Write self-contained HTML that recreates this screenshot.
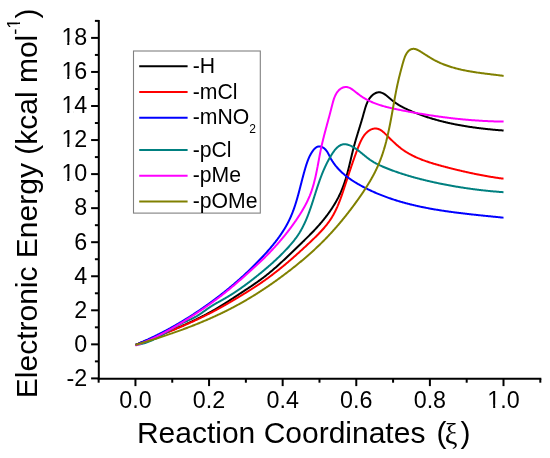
<!DOCTYPE html>
<html><head><meta charset="utf-8"><style>
html,body{margin:0;padding:0;background:#fff;}
svg{display:block;}
</style></head><body>
<svg width="550" height="458" viewBox="0 0 550 458">
<path d="M135.45,344.90 L136.11,344.63 L136.77,344.37 L137.44,344.10 L138.10,343.83 L138.76,343.57 L139.43,343.30 L140.09,343.03 L140.76,342.77 L141.42,342.50 L142.09,342.24 L142.75,341.97 L143.42,341.71 L144.09,341.44 L144.75,341.17 L145.42,340.91 L146.09,340.64 L146.76,340.38 L147.43,340.11 L148.09,339.84 L148.76,339.58 L149.43,339.31 L150.10,339.05 L150.77,338.78 L151.44,338.51 L152.11,338.25 L152.78,337.98 L153.45,337.71 L154.12,337.45 L154.79,337.18 L155.46,336.91 L156.13,336.64 L156.80,336.37 L157.48,336.11 L158.15,335.84 L158.82,335.57 L159.49,335.30 L160.16,335.03 L160.83,334.76 L161.50,334.49 L162.17,334.22 L162.84,333.95 L163.51,333.67 L164.18,333.40 L164.86,333.13 L165.53,332.85 L166.20,332.58 L166.87,332.31 L167.54,332.03 L168.21,331.76 L168.88,331.48 L169.55,331.20 L170.22,330.93 L170.89,330.65 L171.55,330.37 L172.22,330.09 L172.89,329.81 L173.56,329.53 L174.23,329.25 L174.90,328.97 L175.56,328.68 L176.23,328.40 L176.90,328.12 L177.56,327.83 L178.23,327.55 L178.89,327.26 L179.56,326.97 L180.22,326.68 L180.89,326.39 L181.55,326.10 L182.22,325.81 L182.88,325.52 L183.54,325.23 L184.20,324.93 L184.86,324.64 L185.52,324.34 L186.18,324.05 L186.84,323.75 L187.50,323.45 L188.16,323.15 L188.82,322.85 L189.48,322.55 L190.13,322.24 L190.79,321.94 L191.45,321.64 L192.10,321.33 L192.75,321.02 L193.41,320.71 L194.06,320.40 L194.71,320.09 L195.36,319.78 L196.01,319.47 L196.66,319.15 L197.31,318.83 L197.96,318.52 L198.61,318.20 L199.25,317.88 L199.90,317.56 L200.54,317.23 L201.19,316.91 L201.83,316.58 L202.47,316.26 L203.11,315.93 L203.75,315.60 L204.39,315.27 L205.03,314.93 L205.67,314.60 L206.30,314.26 L206.94,313.93 L207.57,313.59 L208.21,313.25 L208.84,312.91 L209.47,312.56 L210.10,312.22 L210.73,311.87 L211.36,311.52 L211.98,311.17 L212.61,310.82 L213.23,310.47 L213.86,310.11 L214.48,309.76 L215.10,309.40 L215.72,309.04 L216.34,308.68 L216.95,308.31 L217.57,307.95 L218.18,307.58 L218.80,307.21 L219.41,306.84 L220.02,306.47 L220.63,306.09 L221.24,305.72 L221.85,305.34 L222.46,304.96 L223.07,304.58 L223.67,304.20 L224.28,303.82 L224.88,303.44 L225.49,303.05 L226.09,302.67 L226.69,302.28 L227.30,301.90 L227.90,301.51 L228.50,301.12 L229.10,300.73 L229.70,300.34 L230.30,299.95 L230.90,299.56 L231.51,299.16 L232.11,298.77 L232.71,298.38 L233.31,297.98 L233.91,297.59 L234.51,297.19 L235.11,296.80 L235.71,296.40 L236.31,296.01 L236.91,295.61 L237.52,295.22 L238.12,294.82 L238.72,294.43 L239.33,294.03 L239.93,293.63 L240.53,293.24 L241.14,292.84 L241.74,292.45 L242.35,292.05 L242.95,291.65 L243.56,291.26 L244.16,290.86 L244.77,290.46 L245.37,290.07 L245.98,289.67 L246.58,289.27 L247.19,288.87 L247.79,288.47 L248.40,288.07 L249.00,287.67 L249.61,287.26 L250.21,286.86 L250.81,286.46 L251.41,286.05 L252.01,285.65 L252.61,285.24 L253.21,284.83 L253.81,284.42 L254.41,284.01 L255.00,283.60 L255.60,283.19 L256.19,282.77 L256.79,282.36 L257.38,281.94 L257.97,281.52 L258.56,281.10 L259.15,280.68 L259.73,280.26 L260.32,279.83 L260.90,279.41 L261.48,278.98 L262.06,278.55 L262.64,278.11 L263.22,277.68 L263.80,277.24 L264.37,276.81 L264.94,276.37 L265.51,275.92 L266.08,275.48 L266.64,275.03 L267.20,274.58 L267.77,274.13 L268.33,273.68 L268.88,273.23 L269.44,272.77 L270.00,272.31 L270.55,271.85 L271.10,271.39 L271.65,270.93 L272.20,270.46 L272.75,270.00 L273.29,269.53 L273.83,269.06 L274.38,268.59 L274.92,268.12 L275.46,267.64 L276.00,267.17 L276.54,266.69 L277.07,266.21 L277.61,265.73 L278.14,265.25 L278.67,264.77 L279.21,264.29 L279.74,263.80 L280.27,263.32 L280.80,262.83 L281.32,262.35 L281.85,261.86 L282.38,261.37 L282.90,260.88 L283.43,260.39 L283.95,259.90 L284.48,259.40 L285.00,258.91 L285.52,258.41 L286.04,257.92 L286.57,257.42 L287.09,256.93 L287.61,256.43 L288.13,255.93 L288.65,255.43 L289.17,254.94 L289.69,254.44 L290.20,253.94 L290.72,253.44 L291.24,252.94 L291.76,252.44 L292.28,251.94 L292.80,251.44 L293.31,250.94 L293.83,250.43 L294.35,249.93 L294.87,249.43 L295.39,248.93 L295.91,248.43 L296.42,247.93 L296.94,247.43 L297.46,246.92 L297.98,246.42 L298.50,245.92 L299.02,245.42 L299.54,244.92 L300.06,244.42 L300.58,243.92 L301.10,243.42 L301.62,242.92 L302.14,242.42 L302.66,241.91 L303.18,241.41 L303.70,240.91 L304.22,240.41 L304.74,239.90 L305.26,239.40 L305.77,238.89 L306.29,238.39 L306.81,237.88 L307.32,237.37 L307.84,236.87 L308.35,236.36 L308.86,235.85 L309.37,235.34 L309.88,234.82 L310.39,234.31 L310.90,233.80 L311.41,233.28 L311.91,232.77 L312.41,232.25 L312.92,231.73 L313.42,231.21 L313.92,230.69 L314.41,230.16 L314.91,229.64 L315.40,229.11 L315.90,228.58 L316.39,228.05 L316.87,227.52 L317.36,226.98 L317.84,226.45 L318.33,225.91 L318.81,225.37 L319.28,224.83 L319.76,224.28 L320.23,223.74 L320.70,223.19 L321.17,222.64 L321.64,222.09 L322.10,221.54 L322.56,220.98 L323.02,220.42 L323.48,219.86 L323.93,219.30 L324.38,218.74 L324.83,218.17 L325.27,217.61 L325.71,217.04 L326.15,216.47 L326.59,215.89 L327.02,215.32 L327.45,214.74 L327.88,214.16 L328.31,213.58 L328.73,213.00 L329.15,212.41 L329.56,211.82 L329.97,211.23 L330.38,210.64 L330.79,210.05 L331.19,209.45 L331.59,208.85 L331.98,208.25 L332.38,207.65 L332.76,207.05 L333.15,206.44 L333.53,205.83 L333.91,205.22 L334.28,204.61 L334.65,203.99 L335.02,203.37 L335.38,202.76 L335.74,202.13 L336.10,201.51 L336.45,200.88 L336.80,200.26 L337.14,199.63 L337.48,198.99 L337.81,198.36 L338.15,197.72 L338.47,197.08 L338.80,196.44 L339.11,195.80 L339.43,195.15 L339.74,194.50 L340.04,193.85 L340.35,193.20 L340.64,192.55 L340.94,191.89 L341.22,191.23 L341.51,190.57 L341.79,189.90 L342.06,189.24 L342.33,188.57 L342.59,187.90 L342.85,187.23 L343.11,186.55 L343.36,185.87 L343.61,185.19 L343.85,184.51 L344.09,183.83 L344.33,183.15 L344.56,182.46 L344.79,181.77 L345.01,181.08 L345.23,180.39 L345.45,179.70 L345.66,179.00 L345.88,178.31 L346.08,177.61 L346.29,176.91 L346.49,176.21 L346.69,175.51 L346.89,174.81 L347.09,174.11 L347.28,173.41 L347.47,172.70 L347.66,172.00 L347.84,171.29 L348.03,170.59 L348.21,169.88 L348.39,169.17 L348.57,168.46 L348.75,167.76 L348.92,167.05 L349.10,166.34 L349.27,165.63 L349.44,164.92 L349.61,164.21 L349.78,163.50 L349.95,162.79 L350.12,162.08 L350.29,161.38 L350.46,160.67 L350.63,159.96 L350.79,159.25 L350.96,158.54 L351.13,157.84 L351.30,157.13 L351.46,156.43 L351.63,155.72 L351.80,155.02 L351.97,154.31 L352.14,153.61 L352.31,152.91 L352.48,152.21 L352.65,151.51 L352.83,150.81 L353.00,150.11 L353.18,149.42 L353.35,148.72 L353.53,148.03 L353.71,147.34 L353.89,146.65 L354.08,145.96 L354.26,145.28 L354.45,144.59 L354.64,143.91 L354.83,143.22 L355.02,142.54 L355.21,141.86 L355.41,141.18 L355.60,140.50 L355.80,139.83 L356.00,139.15 L356.20,138.47 L356.40,137.80 L356.60,137.12 L356.81,136.45 L357.01,135.77 L357.22,135.10 L357.42,134.42 L357.63,133.75 L357.84,133.07 L358.05,132.39 L358.25,131.72 L358.46,131.04 L358.67,130.36 L358.88,129.68 L359.09,129.00 L359.30,128.32 L359.51,127.64 L359.73,126.96 L359.94,126.27 L360.15,125.58 L360.36,124.90 L360.57,124.21 L360.78,123.52 L360.99,122.82 L361.20,122.13 L361.41,121.43 L361.62,120.73 L361.82,120.03 L362.03,119.33 L362.24,118.62 L362.45,117.91 L362.65,117.20 L362.86,116.48 L363.06,115.76 L363.26,115.04 L363.46,114.32 L363.66,113.59 L363.86,112.86 L364.07,112.13 L364.27,111.40 L364.47,110.66 L364.68,109.93 L364.89,109.20 L365.11,108.47 L365.33,107.75 L365.56,107.03 L365.80,106.31 L366.04,105.60 L366.30,104.90 L366.56,104.21 L366.84,103.52 L367.13,102.84 L367.43,102.17 L367.74,101.52 L368.07,100.87 L368.42,100.24 L368.78,99.62 L369.16,99.01 L369.55,98.42 L369.97,97.85 L370.41,97.29 L370.86,96.75 L371.34,96.23 L371.84,95.72 L372.36,95.24 L372.90,94.79 L373.46,94.36 L374.03,93.96 L374.62,93.60 L375.21,93.27 L375.82,92.99 L376.43,92.74 L377.04,92.55 L377.66,92.40 L378.28,92.30 L378.89,92.26 L379.50,92.27 L380.11,92.34 L380.72,92.46 L381.32,92.62 L381.92,92.83 L382.52,93.08 L383.12,93.37 L383.72,93.69 L384.31,94.04 L384.91,94.43 L385.50,94.84 L386.09,95.27 L386.68,95.72 L387.27,96.19 L387.86,96.67 L388.45,97.16 L389.05,97.67 L389.64,98.17 L390.23,98.68 L390.83,99.18 L391.42,99.69 L392.02,100.18 L392.62,100.66 L393.22,101.14 L393.83,101.60 L394.43,102.05 L395.04,102.49 L395.65,102.92 L396.26,103.33 L396.87,103.74 L397.49,104.15 L398.10,104.54 L398.72,104.92 L399.34,105.30 L399.96,105.66 L400.59,106.02 L401.21,106.37 L401.84,106.72 L402.47,107.06 L403.10,107.39 L403.73,107.71 L404.37,108.03 L405.00,108.35 L405.64,108.66 L406.28,108.96 L406.92,109.26 L407.56,109.56 L408.21,109.85 L408.85,110.14 L409.50,110.43 L410.15,110.71 L410.80,110.99 L411.45,111.27 L412.11,111.55 L412.76,111.82 L413.42,112.09 L414.07,112.36 L414.73,112.63 L415.39,112.89 L416.06,113.15 L416.72,113.41 L417.39,113.66 L418.05,113.92 L418.72,114.17 L419.39,114.42 L420.06,114.67 L420.73,114.91 L421.40,115.15 L422.08,115.39 L422.75,115.63 L423.43,115.86 L424.11,116.10 L424.79,116.33 L425.47,116.56 L426.15,116.78 L426.83,117.01 L427.51,117.23 L428.20,117.45 L428.88,117.66 L429.57,117.88 L430.26,118.09 L430.95,118.30 L431.64,118.51 L432.33,118.72 L433.02,118.92 L433.71,119.12 L434.41,119.32 L435.10,119.52 L435.80,119.72 L436.49,119.91 L437.19,120.10 L437.89,120.29 L438.59,120.48 L439.29,120.67 L439.99,120.85 L440.69,121.03 L441.39,121.21 L442.10,121.39 L442.80,121.56 L443.51,121.74 L444.21,121.91 L444.92,122.08 L445.63,122.25 L446.33,122.41 L447.04,122.58 L447.75,122.74 L448.46,122.90 L449.17,123.06 L449.88,123.21 L450.59,123.37 L451.30,123.52 L452.02,123.67 L452.73,123.82 L453.44,123.97 L454.16,124.11 L454.87,124.26 L455.58,124.40 L456.30,124.54 L457.02,124.68 L457.73,124.81 L458.45,124.95 L459.16,125.08 L459.88,125.21 L460.60,125.34 L461.32,125.47 L462.03,125.60 L462.75,125.72 L463.47,125.85 L464.19,125.97 L464.91,126.09 L465.63,126.21 L466.35,126.32 L467.07,126.44 L467.79,126.55 L468.51,126.67 L469.23,126.78 L469.95,126.89 L470.67,126.99 L471.39,127.10 L472.11,127.20 L472.83,127.31 L473.55,127.41 L474.27,127.51 L474.99,127.61 L475.71,127.71 L476.43,127.80 L477.15,127.90 L477.87,127.99 L478.59,128.08 L479.31,128.17 L480.03,128.26 L480.75,128.35 L481.47,128.43 L482.19,128.52 L482.91,128.60 L483.63,128.68 L484.34,128.76 L485.06,128.84 L485.78,128.92 L486.50,129.00 L487.22,129.08 L487.93,129.15 L488.65,129.22 L489.37,129.30 L490.08,129.37 L490.80,129.44 L491.51,129.51 L492.23,129.57 L492.94,129.64 L493.66,129.70 L494.37,129.77 L495.08,129.83 L495.80,129.89 L496.51,129.95 L497.22,130.01 L497.93,130.07 L498.64,130.13 L499.35,130.18 L500.06,130.24 L500.77,130.29 L501.48,130.35 L502.19,130.40 L502.89,130.45 L503.60,130.50" fill="none" stroke="#000000" stroke-width="2" stroke-linejoin="round"/>
<path d="M135.45,344.90 L136.09,344.66 L136.72,344.41 L137.36,344.17 L138.00,343.92 L138.63,343.68 L139.27,343.44 L139.91,343.19 L140.55,342.95 L141.18,342.70 L141.82,342.46 L142.46,342.21 L143.10,341.96 L143.74,341.72 L144.37,341.47 L145.01,341.23 L145.65,340.98 L146.29,340.73 L146.93,340.49 L147.57,340.24 L148.21,339.99 L148.85,339.74 L149.49,339.50 L150.13,339.25 L150.77,339.00 L151.41,338.75 L152.05,338.50 L152.69,338.25 L153.33,338.00 L153.97,337.75 L154.61,337.50 L155.25,337.25 L155.89,337.00 L156.53,336.75 L157.17,336.49 L157.81,336.24 L158.45,335.99 L159.09,335.74 L159.73,335.48 L160.36,335.23 L161.00,334.97 L161.64,334.72 L162.28,334.46 L162.92,334.21 L163.56,333.95 L164.20,333.69 L164.84,333.44 L165.48,333.18 L166.12,332.92 L166.76,332.66 L167.40,332.40 L168.03,332.14 L168.67,331.88 L169.31,331.62 L169.95,331.36 L170.59,331.10 L171.22,330.84 L171.86,330.58 L172.50,330.31 L173.14,330.05 L173.77,329.78 L174.41,329.52 L175.05,329.25 L175.68,328.99 L176.32,328.72 L176.95,328.45 L177.59,328.18 L178.22,327.92 L178.86,327.65 L179.49,327.38 L180.13,327.11 L180.76,326.83 L181.40,326.56 L182.03,326.29 L182.66,326.02 L183.29,325.74 L183.93,325.47 L184.56,325.19 L185.19,324.91 L185.82,324.64 L186.45,324.36 L187.08,324.08 L187.71,323.80 L188.34,323.52 L188.97,323.24 L189.60,322.96 L190.23,322.68 L190.86,322.39 L191.48,322.11 L192.11,321.83 L192.74,321.54 L193.36,321.25 L193.99,320.97 L194.61,320.68 L195.24,320.39 L195.86,320.10 L196.49,319.81 L197.11,319.52 L197.73,319.23 L198.36,318.93 L198.98,318.64 L199.60,318.34 L200.22,318.05 L200.84,317.75 L201.46,317.45 L202.08,317.15 L202.69,316.85 L203.31,316.55 L203.93,316.25 L204.55,315.95 L205.16,315.65 L205.78,315.34 L206.39,315.04 L207.01,314.73 L207.62,314.42 L208.23,314.11 L208.84,313.80 L209.45,313.49 L210.07,313.18 L210.67,312.87 L211.28,312.55 L211.89,312.24 L212.50,311.92 L213.11,311.61 L213.71,311.29 L214.32,310.97 L214.92,310.65 L215.53,310.33 L216.13,310.01 L216.73,309.68 L217.34,309.36 L217.94,309.03 L218.54,308.71 L219.14,308.38 L219.74,308.05 L220.33,307.72 L220.93,307.39 L221.53,307.05 L222.12,306.72 L222.72,306.39 L223.32,306.05 L223.91,305.72 L224.50,305.38 L225.10,305.04 L225.69,304.70 L226.28,304.36 L226.88,304.02 L227.47,303.68 L228.06,303.34 L228.65,303.00 L229.24,302.65 L229.83,302.31 L230.42,301.96 L231.01,301.62 L231.60,301.27 L232.19,300.92 L232.78,300.58 L233.37,300.23 L233.95,299.88 L234.54,299.53 L235.13,299.18 L235.72,298.83 L236.31,298.47 L236.89,298.12 L237.48,297.77 L238.07,297.42 L238.66,297.06 L239.24,296.71 L239.83,296.35 L240.42,296.00 L241.01,295.64 L241.59,295.29 L242.18,294.93 L242.77,294.57 L243.36,294.22 L243.94,293.86 L244.53,293.50 L245.12,293.14 L245.70,292.78 L246.29,292.42 L246.87,292.05 L247.46,291.69 L248.04,291.33 L248.63,290.96 L249.21,290.60 L249.79,290.23 L250.37,289.87 L250.96,289.50 L251.54,289.13 L252.12,288.76 L252.70,288.39 L253.28,288.02 L253.86,287.64 L254.44,287.27 L255.01,286.90 L255.59,286.52 L256.17,286.14 L256.74,285.77 L257.31,285.39 L257.89,285.01 L258.46,284.62 L259.03,284.24 L259.60,283.86 L260.17,283.47 L260.74,283.09 L261.31,282.70 L261.87,282.31 L262.44,281.92 L263.00,281.53 L263.57,281.13 L264.13,280.74 L264.69,280.34 L265.25,279.95 L265.81,279.55 L266.37,279.15 L266.92,278.75 L267.48,278.34 L268.03,277.94 L268.59,277.54 L269.14,277.13 L269.69,276.72 L270.24,276.31 L270.79,275.90 L271.34,275.49 L271.88,275.08 L272.43,274.67 L272.98,274.25 L273.52,273.83 L274.06,273.42 L274.61,273.00 L275.15,272.58 L275.69,272.16 L276.23,271.74 L276.77,271.31 L277.31,270.89 L277.84,270.47 L278.38,270.04 L278.91,269.61 L279.45,269.18 L279.98,268.75 L280.52,268.32 L281.05,267.89 L281.58,267.46 L282.11,267.03 L282.64,266.59 L283.17,266.16 L283.70,265.72 L284.22,265.28 L284.75,264.85 L285.28,264.41 L285.80,263.97 L286.33,263.53 L286.85,263.08 L287.37,262.64 L287.89,262.20 L288.42,261.75 L288.94,261.31 L289.46,260.86 L289.98,260.41 L290.49,259.96 L291.01,259.52 L291.53,259.07 L292.05,258.62 L292.56,258.16 L293.08,257.71 L293.59,257.26 L294.11,256.81 L294.62,256.35 L295.14,255.90 L295.65,255.44 L296.16,254.98 L296.67,254.53 L297.19,254.07 L297.70,253.61 L298.21,253.15 L298.72,252.69 L299.23,252.23 L299.73,251.77 L300.24,251.30 L300.75,250.84 L301.26,250.38 L301.76,249.91 L302.27,249.45 L302.78,248.99 L303.28,248.52 L303.79,248.05 L304.29,247.59 L304.80,247.12 L305.30,246.65 L305.81,246.18 L306.31,245.71 L306.81,245.24 L307.31,244.77 L307.82,244.30 L308.32,243.83 L308.82,243.36 L309.32,242.89 L309.82,242.42 L310.32,241.95 L310.83,241.47 L311.33,241.00 L311.82,240.52 L312.32,240.05 L312.82,239.57 L313.32,239.10 L313.81,238.62 L314.31,238.14 L314.80,237.66 L315.30,237.18 L315.79,236.70 L316.28,236.21 L316.76,235.73 L317.25,235.24 L317.73,234.75 L318.22,234.27 L318.70,233.77 L319.17,233.28 L319.65,232.79 L320.12,232.29 L320.59,231.79 L321.06,231.29 L321.52,230.79 L321.98,230.28 L322.44,229.77 L322.90,229.26 L323.35,228.75 L323.80,228.23 L324.25,227.72 L324.69,227.20 L325.13,226.67 L325.56,226.15 L325.99,225.62 L326.42,225.08 L326.84,224.55 L327.26,224.01 L327.68,223.47 L328.08,222.92 L328.49,222.37 L328.89,221.82 L329.29,221.27 L329.68,220.71 L330.06,220.14 L330.44,219.58 L330.82,219.01 L331.19,218.43 L331.55,217.85 L331.91,217.27 L332.27,216.68 L332.62,216.09 L332.96,215.50 L333.30,214.90 L333.63,214.30 L333.96,213.69 L334.28,213.08 L334.60,212.47 L334.92,211.86 L335.23,211.24 L335.53,210.62 L335.83,210.00 L336.13,209.37 L336.42,208.74 L336.71,208.11 L336.99,207.48 L337.28,206.84 L337.55,206.20 L337.83,205.57 L338.10,204.92 L338.36,204.28 L338.63,203.64 L338.89,202.99 L339.15,202.34 L339.40,201.69 L339.65,201.04 L339.90,200.39 L340.15,199.74 L340.39,199.08 L340.63,198.43 L340.87,197.77 L341.10,197.12 L341.34,196.46 L341.57,195.81 L341.80,195.15 L342.03,194.49 L342.26,193.84 L342.48,193.18 L342.70,192.52 L342.92,191.87 L343.15,191.21 L343.36,190.55 L343.58,189.90 L343.80,189.25 L344.02,188.59 L344.23,187.94 L344.44,187.29 L344.66,186.64 L344.87,185.99 L345.08,185.34 L345.30,184.70 L345.51,184.05 L345.72,183.41 L345.93,182.76 L346.14,182.12 L346.35,181.48 L346.56,180.84 L346.77,180.19 L346.98,179.55 L347.19,178.91 L347.40,178.28 L347.61,177.64 L347.81,177.00 L348.02,176.36 L348.23,175.72 L348.44,175.08 L348.65,174.45 L348.86,173.81 L349.07,173.17 L349.28,172.53 L349.50,171.90 L349.71,171.26 L349.92,170.62 L350.13,169.98 L350.34,169.35 L350.56,168.71 L350.77,168.07 L350.99,167.43 L351.20,166.79 L351.42,166.15 L351.64,165.51 L351.86,164.87 L352.08,164.23 L352.30,163.58 L352.52,162.94 L352.74,162.29 L352.96,161.65 L353.19,161.00 L353.41,160.35 L353.64,159.71 L353.87,159.06 L354.10,158.41 L354.33,157.75 L354.56,157.10 L354.80,156.45 L355.03,155.79 L355.27,155.13 L355.51,154.47 L355.75,153.81 L355.99,153.15 L356.23,152.49 L356.48,151.82 L356.73,151.15 L356.98,150.48 L357.23,149.81 L357.48,149.14 L357.74,148.46 L357.99,147.79 L358.25,147.11 L358.52,146.44 L358.79,145.76 L359.06,145.09 L359.34,144.42 L359.62,143.75 L359.91,143.09 L360.20,142.43 L360.50,141.78 L360.81,141.13 L361.12,140.49 L361.44,139.86 L361.77,139.24 L362.11,138.62 L362.46,138.02 L362.82,137.42 L363.18,136.84 L363.56,136.27 L363.95,135.71 L364.35,135.17 L364.76,134.64 L365.18,134.12 L365.62,133.63 L366.07,133.14 L366.53,132.68 L367.01,132.23 L367.50,131.80 L368.00,131.39 L368.52,131.00 L369.06,130.63 L369.61,130.28 L370.17,129.96 L370.76,129.66 L371.35,129.38 L371.96,129.14 L372.58,128.93 L373.21,128.76 L373.84,128.63 L374.48,128.54 L375.12,128.50 L375.76,128.51 L376.40,128.56 L377.03,128.65 L377.66,128.79 L378.29,128.97 L378.90,129.19 L379.51,129.45 L380.10,129.75 L380.68,130.08 L381.25,130.44 L381.82,130.83 L382.37,131.25 L382.91,131.69 L383.45,132.15 L383.98,132.62 L384.51,133.11 L385.03,133.61 L385.55,134.12 L386.07,134.62 L386.58,135.13 L387.09,135.64 L387.60,136.15 L388.11,136.66 L388.62,137.16 L389.13,137.67 L389.63,138.17 L390.14,138.67 L390.64,139.17 L391.15,139.67 L391.66,140.16 L392.16,140.65 L392.67,141.14 L393.18,141.63 L393.69,142.11 L394.20,142.59 L394.71,143.07 L395.22,143.54 L395.73,144.01 L396.25,144.47 L396.77,144.93 L397.29,145.38 L397.81,145.83 L398.34,146.28 L398.87,146.72 L399.40,147.15 L399.93,147.58 L400.47,148.00 L401.01,148.42 L401.56,148.83 L402.10,149.24 L402.66,149.63 L403.21,150.03 L403.77,150.41 L404.33,150.80 L404.90,151.17 L405.47,151.54 L406.04,151.91 L406.62,152.26 L407.20,152.62 L407.78,152.97 L408.37,153.31 L408.95,153.65 L409.55,153.98 L410.14,154.31 L410.74,154.63 L411.34,154.95 L411.94,155.26 L412.54,155.57 L413.15,155.88 L413.76,156.18 L414.38,156.47 L414.99,156.76 L415.61,157.05 L416.23,157.33 L416.85,157.61 L417.48,157.88 L418.10,158.16 L418.73,158.42 L419.36,158.68 L420.00,158.94 L420.63,159.20 L421.27,159.45 L421.91,159.70 L422.55,159.94 L423.19,160.19 L423.83,160.42 L424.48,160.66 L425.12,160.89 L425.77,161.12 L426.42,161.35 L427.07,161.57 L427.73,161.79 L428.38,162.01 L429.03,162.22 L429.69,162.44 L430.35,162.65 L431.01,162.86 L431.67,163.06 L432.33,163.27 L432.99,163.47 L433.65,163.67 L434.31,163.86 L434.98,164.06 L435.64,164.25 L436.30,164.44 L436.97,164.63 L437.64,164.82 L438.30,165.01 L438.97,165.19 L439.64,165.38 L440.30,165.56 L440.97,165.74 L441.64,165.92 L442.31,166.10 L442.97,166.28 L443.64,166.46 L444.31,166.64 L444.98,166.81 L445.64,166.99 L446.31,167.16 L446.98,167.34 L447.65,167.51 L448.31,167.68 L448.98,167.85 L449.65,168.02 L450.31,168.19 L450.98,168.36 L451.65,168.53 L452.31,168.70 L452.98,168.87 L453.65,169.03 L454.32,169.20 L454.98,169.36 L455.65,169.53 L456.32,169.69 L456.98,169.85 L457.65,170.01 L458.32,170.17 L458.98,170.33 L459.65,170.49 L460.32,170.65 L460.98,170.81 L461.65,170.96 L462.32,171.12 L462.98,171.27 L463.65,171.43 L464.32,171.58 L464.99,171.73 L465.66,171.88 L466.32,172.03 L466.99,172.18 L467.66,172.33 L468.33,172.48 L469.00,172.62 L469.66,172.77 L470.33,172.91 L471.00,173.06 L471.67,173.20 L472.34,173.34 L473.01,173.48 L473.68,173.62 L474.35,173.76 L475.02,173.90 L475.69,174.04 L476.36,174.17 L477.03,174.31 L477.70,174.44 L478.38,174.57 L479.05,174.70 L479.72,174.83 L480.39,174.96 L481.07,175.09 L481.74,175.22 L482.41,175.35 L483.09,175.47 L483.76,175.59 L484.44,175.72 L485.11,175.84 L485.79,175.96 L486.46,176.08 L487.14,176.20 L487.81,176.32 L488.49,176.43 L489.17,176.55 L489.85,176.66 L490.52,176.78 L491.20,176.89 L491.88,177.00 L492.56,177.11 L493.24,177.22 L493.92,177.32 L494.60,177.43 L495.28,177.54 L495.96,177.64 L496.65,177.74 L497.33,177.84 L498.01,177.94 L498.70,178.04 L499.38,178.14 L500.07,178.24 L500.75,178.33 L501.44,178.43 L502.13,178.52 L502.81,178.61 L503.50,178.70" fill="none" stroke="#FF0000" stroke-width="2" stroke-linejoin="round"/>
<path d="M135.45,344.90 L136.09,344.63 L136.74,344.37 L137.38,344.10 L138.02,343.82 L138.66,343.55 L139.30,343.28 L139.95,343.00 L140.59,342.73 L141.22,342.45 L141.86,342.17 L142.50,341.89 L143.14,341.61 L143.78,341.32 L144.42,341.04 L145.05,340.75 L145.69,340.47 L146.32,340.18 L146.96,339.89 L147.59,339.60 L148.23,339.30 L148.86,339.01 L149.49,338.71 L150.13,338.42 L150.76,338.12 L151.39,337.82 L152.02,337.52 L152.65,337.22 L153.28,336.91 L153.91,336.61 L154.54,336.30 L155.17,336.00 L155.79,335.69 L156.42,335.38 L157.05,335.07 L157.67,334.76 L158.30,334.44 L158.92,334.13 L159.55,333.81 L160.17,333.50 L160.79,333.18 L161.42,332.86 L162.04,332.54 L162.66,332.22 L163.28,331.89 L163.90,331.57 L164.52,331.24 L165.14,330.92 L165.76,330.59 L166.37,330.26 L166.99,329.93 L167.61,329.60 L168.22,329.26 L168.84,328.93 L169.45,328.59 L170.07,328.26 L170.68,327.92 L171.29,327.58 L171.91,327.24 L172.52,326.90 L173.13,326.55 L173.74,326.21 L174.35,325.87 L174.96,325.52 L175.57,325.17 L176.17,324.82 L176.78,324.47 L177.39,324.12 L177.99,323.77 L178.60,323.42 L179.20,323.06 L179.81,322.71 L180.41,322.35 L181.01,321.99 L181.61,321.64 L182.22,321.28 L182.82,320.91 L183.42,320.55 L184.02,320.19 L184.61,319.82 L185.21,319.46 L185.81,319.09 L186.41,318.72 L187.00,318.35 L187.60,317.98 L188.19,317.61 L188.78,317.24 L189.38,316.87 L189.97,316.49 L190.56,316.12 L191.15,315.74 L191.74,315.36 L192.33,314.98 L192.92,314.61 L193.51,314.22 L194.10,313.84 L194.68,313.46 L195.27,313.08 L195.85,312.69 L196.44,312.30 L197.02,311.92 L197.61,311.53 L198.19,311.14 L198.77,310.75 L199.35,310.36 L199.93,309.96 L200.51,309.57 L201.09,309.18 L201.67,308.78 L202.24,308.38 L202.82,307.99 L203.39,307.59 L203.97,307.19 L204.54,306.79 L205.12,306.39 L205.69,305.98 L206.26,305.58 L206.83,305.18 L207.40,304.77 L207.97,304.36 L208.54,303.96 L209.11,303.55 L209.67,303.14 L210.24,302.73 L210.81,302.32 L211.37,301.90 L211.94,301.49 L212.50,301.08 L213.06,300.66 L213.62,300.24 L214.18,299.83 L214.74,299.41 L215.30,298.99 L215.86,298.57 L216.42,298.15 L216.97,297.73 L217.53,297.30 L218.08,296.88 L218.64,296.46 L219.19,296.03 L219.74,295.60 L220.29,295.18 L220.85,294.75 L221.40,294.32 L221.94,293.89 L222.49,293.46 L223.04,293.03 L223.59,292.59 L224.13,292.16 L224.68,291.73 L225.22,291.29 L225.76,290.85 L226.31,290.42 L226.85,289.98 L227.39,289.54 L227.93,289.10 L228.47,288.66 L229.00,288.22 L229.54,287.77 L230.08,287.33 L230.61,286.88 L231.15,286.44 L231.68,285.99 L232.21,285.54 L232.75,285.10 L233.28,284.65 L233.81,284.20 L234.34,283.74 L234.86,283.29 L235.39,282.84 L235.92,282.38 L236.44,281.93 L236.97,281.47 L237.49,281.01 L238.02,280.55 L238.54,280.09 L239.06,279.63 L239.58,279.17 L240.10,278.71 L240.62,278.25 L241.14,277.78 L241.66,277.32 L242.17,276.85 L242.69,276.38 L243.20,275.91 L243.72,275.44 L244.23,274.97 L244.74,274.50 L245.25,274.02 L245.76,273.55 L246.27,273.07 L246.78,272.60 L247.29,272.12 L247.80,271.64 L248.30,271.16 L248.81,270.68 L249.31,270.20 L249.81,269.71 L250.32,269.23 L250.82,268.74 L251.32,268.26 L251.82,267.77 L252.32,267.28 L252.82,266.79 L253.31,266.30 L253.81,265.80 L254.31,265.31 L254.80,264.82 L255.29,264.32 L255.79,263.82 L256.28,263.32 L256.77,262.82 L257.26,262.32 L257.75,261.82 L258.24,261.32 L258.73,260.81 L259.21,260.31 L259.70,259.80 L260.18,259.29 L260.67,258.78 L261.15,258.27 L261.63,257.76 L262.11,257.25 L262.59,256.73 L263.07,256.22 L263.55,255.70 L264.03,255.18 L264.51,254.66 L264.98,254.14 L265.46,253.62 L265.93,253.09 L266.40,252.57 L266.87,252.04 L267.34,251.52 L267.81,250.99 L268.28,250.46 L268.74,249.92 L269.20,249.39 L269.67,248.86 L270.12,248.32 L270.58,247.78 L271.04,247.24 L271.49,246.70 L271.94,246.16 L272.39,245.62 L272.84,245.07 L273.29,244.53 L273.73,243.98 L274.17,243.43 L274.61,242.88 L275.05,242.32 L275.48,241.77 L275.91,241.21 L276.34,240.66 L276.77,240.10 L277.19,239.54 L277.61,238.97 L278.03,238.41 L278.45,237.84 L278.86,237.28 L279.27,236.71 L279.67,236.14 L280.08,235.56 L280.48,234.99 L280.87,234.41 L281.27,233.83 L281.66,233.25 L282.05,232.67 L282.43,232.09 L282.81,231.50 L283.19,230.92 L283.56,230.33 L283.93,229.74 L284.29,229.14 L284.65,228.55 L285.01,227.95 L285.37,227.36 L285.71,226.76 L286.06,226.15 L286.40,225.55 L286.74,224.94 L287.07,224.34 L287.40,223.73 L287.73,223.11 L288.05,222.50 L288.36,221.88 L288.67,221.27 L288.98,220.65 L289.28,220.02 L289.58,219.40 L289.87,218.77 L290.16,218.14 L290.45,217.51 L290.73,216.88 L291.00,216.25 L291.27,215.61 L291.54,214.97 L291.80,214.34 L292.06,213.69 L292.32,213.05 L292.57,212.41 L292.82,211.76 L293.06,211.11 L293.31,210.46 L293.54,209.81 L293.78,209.16 L294.01,208.51 L294.24,207.85 L294.46,207.19 L294.69,206.53 L294.91,205.87 L295.12,205.21 L295.34,204.55 L295.55,203.89 L295.76,203.22 L295.96,202.56 L296.17,201.89 L296.37,201.22 L296.57,200.55 L296.77,199.88 L296.97,199.21 L297.16,198.54 L297.35,197.86 L297.54,197.19 L297.73,196.52 L297.92,195.84 L298.11,195.16 L298.29,194.49 L298.48,193.81 L298.66,193.13 L298.84,192.45 L299.02,191.77 L299.20,191.09 L299.38,190.41 L299.56,189.72 L299.73,189.04 L299.91,188.36 L300.09,187.68 L300.26,186.99 L300.44,186.31 L300.62,185.62 L300.79,184.94 L300.97,184.25 L301.14,183.57 L301.32,182.88 L301.49,182.20 L301.67,181.51 L301.85,180.82 L302.02,180.14 L302.20,179.45 L302.38,178.77 L302.56,178.08 L302.74,177.40 L302.92,176.71 L303.10,176.02 L303.29,175.34 L303.47,174.65 L303.66,173.97 L303.84,173.28 L304.03,172.60 L304.22,171.92 L304.42,171.23 L304.61,170.55 L304.81,169.87 L305.00,169.18 L305.20,168.50 L305.40,167.82 L305.61,167.14 L305.81,166.46 L306.02,165.78 L306.23,165.10 L306.45,164.43 L306.67,163.75 L306.90,163.08 L307.13,162.41 L307.36,161.74 L307.60,161.08 L307.85,160.42 L308.11,159.76 L308.37,159.11 L308.64,158.46 L308.92,157.81 L309.21,157.17 L309.50,156.54 L309.81,155.91 L310.13,155.28 L310.46,154.67 L310.80,154.05 L311.15,153.45 L311.51,152.85 L311.89,152.26 L312.28,151.67 L312.68,151.10 L313.10,150.53 L313.53,149.97 L313.98,149.43 L314.44,148.91 L314.92,148.43 L315.42,147.98 L315.94,147.58 L316.47,147.23 L317.03,146.94 L317.59,146.70 L318.17,146.54 L318.77,146.43 L319.37,146.40 L319.97,146.44 L320.58,146.54 L321.19,146.70 L321.79,146.92 L322.39,147.20 L322.98,147.52 L323.55,147.89 L324.11,148.31 L324.65,148.76 L325.17,149.24 L325.67,149.76 L326.14,150.31 L326.58,150.87 L326.99,151.46 L327.38,152.07 L327.75,152.69 L328.11,153.32 L328.45,153.96 L328.79,154.61 L329.12,155.27 L329.44,155.92 L329.77,156.57 L330.10,157.22 L330.44,157.86 L330.78,158.50 L331.14,159.13 L331.50,159.75 L331.87,160.36 L332.24,160.97 L332.63,161.57 L333.02,162.16 L333.42,162.74 L333.82,163.32 L334.23,163.90 L334.65,164.46 L335.08,165.02 L335.51,165.58 L335.95,166.12 L336.39,166.66 L336.84,167.20 L337.30,167.73 L337.76,168.25 L338.23,168.76 L338.70,169.28 L339.18,169.78 L339.67,170.28 L340.16,170.77 L340.65,171.26 L341.15,171.74 L341.66,172.22 L342.17,172.69 L342.69,173.16 L343.21,173.62 L343.73,174.08 L344.26,174.53 L344.80,174.97 L345.34,175.42 L345.88,175.85 L346.43,176.28 L346.98,176.71 L347.53,177.13 L348.09,177.55 L348.66,177.96 L349.22,178.37 L349.79,178.78 L350.36,179.18 L350.94,179.58 L351.52,179.97 L352.10,180.36 L352.69,180.74 L353.27,181.12 L353.87,181.50 L354.46,181.87 L355.05,182.24 L355.65,182.61 L356.25,182.97 L356.86,183.33 L357.46,183.68 L358.07,184.04 L358.67,184.39 L359.28,184.73 L359.90,185.07 L360.51,185.41 L361.12,185.75 L361.74,186.09 L362.36,186.42 L362.97,186.75 L363.59,187.07 L364.21,187.40 L364.83,187.72 L365.46,188.04 L366.08,188.35 L366.70,188.66 L367.33,188.97 L367.96,189.28 L368.58,189.59 L369.21,189.89 L369.84,190.19 L370.47,190.49 L371.11,190.78 L371.74,191.08 L372.37,191.37 L373.01,191.65 L373.64,191.94 L374.28,192.22 L374.92,192.50 L375.56,192.78 L376.20,193.06 L376.84,193.33 L377.48,193.60 L378.12,193.87 L378.76,194.13 L379.41,194.40 L380.05,194.66 L380.70,194.92 L381.35,195.17 L381.99,195.43 L382.64,195.68 L383.29,195.93 L383.94,196.18 L384.59,196.42 L385.25,196.67 L385.90,196.91 L386.55,197.15 L387.21,197.38 L387.86,197.62 L388.52,197.85 L389.18,198.08 L389.83,198.31 L390.49,198.53 L391.15,198.76 L391.81,198.98 L392.47,199.20 L393.13,199.42 L393.80,199.63 L394.46,199.85 L395.12,200.06 L395.79,200.27 L396.45,200.47 L397.12,200.68 L397.79,200.88 L398.45,201.09 L399.12,201.29 L399.79,201.48 L400.46,201.68 L401.13,201.87 L401.80,202.07 L402.47,202.26 L403.15,202.45 L403.82,202.63 L404.49,202.82 L405.17,203.00 L405.84,203.18 L406.52,203.36 L407.19,203.54 L407.87,203.72 L408.55,203.89 L409.22,204.06 L409.90,204.24 L410.58,204.41 L411.26,204.57 L411.94,204.74 L412.62,204.90 L413.30,205.07 L413.98,205.23 L414.66,205.39 L415.35,205.55 L416.03,205.70 L416.71,205.86 L417.40,206.01 L418.08,206.16 L418.77,206.31 L419.45,206.46 L420.14,206.61 L420.82,206.76 L421.51,206.90 L422.20,207.04 L422.88,207.19 L423.57,207.33 L424.26,207.46 L424.95,207.60 L425.64,207.74 L426.33,207.87 L427.02,208.01 L427.71,208.14 L428.40,208.27 L429.09,208.40 L429.78,208.53 L430.47,208.65 L431.17,208.78 L431.86,208.90 L432.55,209.03 L433.24,209.15 L433.94,209.27 L434.63,209.39 L435.32,209.51 L436.02,209.63 L436.71,209.74 L437.41,209.86 L438.10,209.97 L438.80,210.08 L439.49,210.19 L440.19,210.31 L440.89,210.42 L441.58,210.52 L442.28,210.63 L442.97,210.74 L443.67,210.84 L444.37,210.95 L445.07,211.05 L445.76,211.15 L446.46,211.26 L447.16,211.36 L447.86,211.46 L448.55,211.55 L449.25,211.65 L449.95,211.75 L450.65,211.85 L451.35,211.94 L452.04,212.04 L452.74,212.13 L453.44,212.22 L454.14,212.31 L454.84,212.41 L455.54,212.50 L456.24,212.59 L456.94,212.68 L457.64,212.76 L458.33,212.85 L459.03,212.94 L459.73,213.02 L460.43,213.11 L461.13,213.19 L461.83,213.28 L462.53,213.36 L463.23,213.45 L463.93,213.53 L464.63,213.61 L465.33,213.69 L466.03,213.77 L466.72,213.85 L467.42,213.93 L468.12,214.01 L468.82,214.09 L469.52,214.17 L470.22,214.25 L470.92,214.32 L471.62,214.40 L472.31,214.48 L473.01,214.55 L473.71,214.63 L474.41,214.70 L475.11,214.78 L475.80,214.85 L476.50,214.93 L477.20,215.00 L477.90,215.07 L478.59,215.15 L479.29,215.22 L479.99,215.29 L480.68,215.37 L481.38,215.44 L482.07,215.51 L482.77,215.58 L483.47,215.65 L484.16,215.72 L484.86,215.80 L485.55,215.87 L486.24,215.94 L486.94,216.01 L487.63,216.08 L488.33,216.15 L489.02,216.22 L489.71,216.29 L490.41,216.36 L491.10,216.43 L491.79,216.50 L492.48,216.57 L493.17,216.64 L493.86,216.71 L494.55,216.78 L495.25,216.85 L495.94,216.92 L496.62,216.99 L497.31,217.06 L498.00,217.13 L498.69,217.20 L499.38,217.27 L500.07,217.35 L500.75,217.42 L501.44,217.49 L502.13,217.56 L502.81,217.63 L503.50,217.70" fill="none" stroke="#0000FF" stroke-width="2" stroke-linejoin="round"/>
<path d="M135.45,344.90 L136.17,344.83 L136.89,344.75 L137.60,344.66 L138.30,344.55 L139.00,344.44 L139.69,344.32 L140.38,344.18 L141.07,344.04 L141.75,343.89 L142.42,343.73 L143.09,343.56 L143.75,343.38 L144.41,343.19 L145.07,342.99 L145.72,342.78 L146.37,342.57 L147.01,342.35 L147.65,342.12 L148.29,341.88 L148.92,341.64 L149.55,341.39 L150.17,341.13 L150.80,340.87 L151.41,340.60 L152.03,340.32 L152.64,340.04 L153.25,339.75 L153.86,339.46 L154.46,339.16 L155.06,338.86 L155.66,338.55 L156.26,338.24 L156.85,337.92 L157.45,337.60 L158.04,337.28 L158.63,336.95 L159.21,336.61 L159.80,336.28 L160.38,335.94 L160.97,335.60 L161.55,335.26 L162.13,334.91 L162.71,334.56 L163.28,334.21 L163.86,333.86 L164.44,333.50 L165.01,333.15 L165.59,332.79 L166.16,332.44 L166.74,332.08 L167.31,331.72 L167.89,331.36 L168.46,331.00 L169.04,330.65 L169.61,330.29 L170.19,329.93 L170.76,329.57 L171.34,329.22 L171.92,328.87 L172.49,328.51 L173.07,328.16 L173.65,327.81 L174.23,327.47 L174.82,327.12 L175.40,326.78 L175.99,326.44 L176.57,326.11 L177.16,325.78 L177.75,325.45 L178.35,325.12 L178.94,324.80 L179.54,324.48 L180.14,324.17 L180.74,323.86 L181.35,323.56 L181.95,323.26 L182.56,322.97 L183.17,322.68 L183.79,322.39 L184.40,322.11 L185.02,321.83 L185.64,321.55 L186.26,321.27 L186.87,321.00 L187.49,320.72 L188.11,320.44 L188.73,320.17 L189.35,319.89 L189.96,319.61 L190.58,319.33 L191.19,319.04 L191.80,318.75 L192.41,318.46 L193.01,318.16 L193.61,317.86 L194.21,317.55 L194.81,317.23 L195.40,316.91 L195.99,316.58 L196.57,316.25 L197.15,315.90 L197.73,315.55 L198.30,315.20 L198.86,314.84 L199.43,314.47 L199.99,314.10 L200.55,313.72 L201.11,313.34 L201.67,312.96 L202.22,312.57 L202.77,312.18 L203.32,311.79 L203.88,311.39 L204.43,311.00 L204.98,310.61 L205.53,310.21 L206.08,309.82 L206.63,309.42 L207.18,309.03 L207.74,308.64 L208.29,308.25 L208.85,307.87 L209.41,307.49 L209.97,307.11 L210.53,306.73 L211.10,306.36 L211.67,306.00 L212.24,305.64 L212.82,305.29 L213.39,304.94 L213.97,304.59 L214.56,304.25 L215.14,303.91 L215.73,303.57 L216.32,303.24 L216.91,302.91 L217.50,302.58 L218.09,302.25 L218.68,301.93 L219.28,301.60 L219.87,301.27 L220.46,300.95 L221.05,300.62 L221.65,300.29 L222.24,299.96 L222.83,299.63 L223.41,299.30 L224.00,298.97 L224.59,298.63 L225.17,298.29 L225.75,297.95 L226.33,297.61 L226.91,297.26 L227.49,296.92 L228.07,296.57 L228.65,296.22 L229.22,295.87 L229.79,295.51 L230.37,295.15 L230.94,294.80 L231.51,294.44 L232.08,294.08 L232.64,293.71 L233.21,293.35 L233.77,292.98 L234.34,292.61 L234.90,292.24 L235.46,291.87 L236.02,291.49 L236.58,291.12 L237.14,290.74 L237.70,290.36 L238.25,289.98 L238.81,289.60 L239.36,289.22 L239.92,288.83 L240.47,288.45 L241.02,288.06 L241.57,287.67 L242.12,287.28 L242.67,286.89 L243.22,286.49 L243.76,286.10 L244.31,285.70 L244.86,285.31 L245.40,284.91 L245.94,284.51 L246.49,284.10 L247.03,283.70 L247.57,283.30 L248.11,282.89 L248.65,282.49 L249.19,282.08 L249.72,281.67 L250.26,281.26 L250.80,280.85 L251.33,280.44 L251.87,280.02 L252.40,279.61 L252.94,279.19 L253.47,278.78 L254.00,278.36 L254.54,277.94 L255.07,277.52 L255.60,277.10 L256.13,276.68 L256.66,276.26 L257.19,275.84 L257.72,275.41 L258.25,274.99 L258.77,274.56 L259.30,274.14 L259.83,273.71 L260.35,273.28 L260.88,272.85 L261.40,272.42 L261.93,271.99 L262.45,271.56 L262.97,271.12 L263.49,270.69 L264.01,270.25 L264.53,269.82 L265.05,269.38 L265.57,268.94 L266.09,268.50 L266.61,268.06 L267.12,267.62 L267.64,267.18 L268.15,266.73 L268.66,266.29 L269.17,265.84 L269.68,265.40 L270.19,264.95 L270.70,264.50 L271.21,264.05 L271.72,263.60 L272.22,263.14 L272.73,262.69 L273.23,262.23 L273.73,261.78 L274.23,261.32 L274.73,260.86 L275.23,260.40 L275.72,259.94 L276.22,259.48 L276.71,259.01 L277.21,258.55 L277.70,258.08 L278.19,257.61 L278.68,257.14 L279.16,256.67 L279.65,256.20 L280.13,255.73 L280.62,255.25 L281.10,254.78 L281.58,254.30 L282.05,253.82 L282.53,253.34 L283.00,252.86 L283.48,252.37 L283.95,251.89 L284.42,251.40 L284.89,250.91 L285.35,250.43 L285.82,249.93 L286.28,249.44 L286.74,248.95 L287.20,248.45 L287.66,247.96 L288.11,247.46 L288.57,246.96 L289.02,246.46 L289.47,245.95 L289.91,245.45 L290.36,244.94 L290.80,244.43 L291.24,243.92 L291.67,243.41 L292.11,242.89 L292.54,242.37 L292.96,241.86 L293.39,241.33 L293.81,240.81 L294.22,240.28 L294.63,239.75 L295.04,239.22 L295.45,238.68 L295.85,238.15 L296.24,237.60 L296.64,237.06 L297.02,236.51 L297.40,235.96 L297.78,235.41 L298.16,234.86 L298.52,234.30 L298.89,233.73 L299.24,233.17 L299.60,232.60 L299.94,232.03 L300.29,231.45 L300.63,230.87 L300.96,230.29 L301.29,229.71 L301.61,229.12 L301.93,228.53 L302.25,227.94 L302.56,227.35 L302.87,226.75 L303.18,226.15 L303.48,225.55 L303.77,224.94 L304.06,224.34 L304.35,223.73 L304.64,223.12 L304.92,222.50 L305.20,221.89 L305.47,221.27 L305.75,220.65 L306.01,220.03 L306.28,219.41 L306.54,218.78 L306.80,218.16 L307.06,217.53 L307.31,216.90 L307.56,216.27 L307.81,215.64 L308.06,215.00 L308.30,214.37 L308.54,213.73 L308.78,213.10 L309.01,212.46 L309.25,211.82 L309.48,211.18 L309.71,210.53 L309.94,209.89 L310.16,209.25 L310.39,208.60 L310.61,207.96 L310.83,207.31 L311.05,206.67 L311.27,206.02 L311.49,205.37 L311.70,204.73 L311.91,204.08 L312.13,203.43 L312.34,202.78 L312.55,202.13 L312.76,201.48 L312.97,200.84 L313.18,200.19 L313.38,199.54 L313.59,198.89 L313.80,198.24 L314.00,197.59 L314.21,196.95 L314.42,196.30 L314.62,195.65 L314.83,195.00 L315.03,194.36 L315.24,193.71 L315.44,193.07 L315.65,192.42 L315.85,191.78 L316.06,191.14 L316.26,190.49 L316.47,189.85 L316.68,189.21 L316.89,188.57 L317.10,187.93 L317.31,187.29 L317.52,186.65 L317.73,186.01 L317.94,185.37 L318.16,184.74 L318.38,184.10 L318.59,183.46 L318.81,182.83 L319.03,182.19 L319.25,181.56 L319.48,180.92 L319.70,180.29 L319.93,179.66 L320.16,179.03 L320.39,178.39 L320.62,177.76 L320.86,177.13 L321.10,176.50 L321.34,175.87 L321.58,175.24 L321.83,174.61 L322.08,173.99 L322.33,173.36 L322.58,172.73 L322.84,172.11 L323.10,171.48 L323.36,170.86 L323.62,170.23 L323.89,169.61 L324.17,168.99 L324.44,168.36 L324.72,167.74 L325.00,167.12 L325.29,166.50 L325.58,165.88 L325.87,165.26 L326.17,164.64 L326.47,164.02 L326.78,163.40 L327.09,162.78 L327.40,162.17 L327.72,161.55 L328.05,160.94 L328.37,160.32 L328.71,159.71 L329.04,159.09 L329.38,158.48 L329.73,157.87 L330.08,157.25 L330.44,156.64 L330.80,156.03 L331.17,155.42 L331.54,154.81 L331.92,154.21 L332.30,153.61 L332.69,153.02 L333.08,152.44 L333.48,151.87 L333.89,151.30 L334.31,150.75 L334.73,150.21 L335.15,149.69 L335.59,149.18 L336.03,148.69 L336.48,148.22 L336.94,147.76 L337.40,147.33 L337.88,146.92 L338.36,146.53 L338.85,146.17 L339.34,145.84 L339.85,145.53 L340.37,145.25 L340.89,145.00 L341.42,144.79 L341.97,144.60 L342.52,144.45 L343.08,144.34 L343.65,144.26 L344.23,144.22 L344.82,144.22 L345.42,144.25 L346.03,144.33 L346.65,144.44 L347.27,144.58 L347.89,144.75 L348.52,144.94 L349.15,145.17 L349.77,145.41 L350.39,145.68 L351.01,145.96 L351.63,146.26 L352.23,146.57 L352.83,146.90 L353.43,147.24 L354.02,147.58 L354.60,147.94 L355.17,148.31 L355.75,148.69 L356.31,149.08 L356.88,149.48 L357.43,149.88 L357.99,150.29 L358.54,150.71 L359.09,151.13 L359.64,151.56 L360.18,151.99 L360.72,152.43 L361.26,152.86 L361.80,153.30 L362.34,153.74 L362.87,154.19 L363.41,154.63 L363.95,155.07 L364.49,155.51 L365.02,155.95 L365.56,156.39 L366.10,156.82 L366.64,157.25 L367.19,157.68 L367.73,158.10 L368.28,158.51 L368.83,158.92 L369.39,159.32 L369.94,159.72 L370.51,160.10 L371.07,160.48 L371.64,160.85 L372.21,161.22 L372.79,161.57 L373.37,161.92 L373.95,162.27 L374.54,162.60 L375.13,162.93 L375.72,163.26 L376.31,163.58 L376.91,163.89 L377.51,164.20 L378.11,164.50 L378.71,164.79 L379.32,165.09 L379.93,165.37 L380.54,165.66 L381.15,165.94 L381.76,166.21 L382.38,166.48 L383.00,166.75 L383.62,167.02 L384.24,167.28 L384.86,167.53 L385.48,167.79 L386.10,168.04 L386.73,168.29 L387.35,168.54 L387.98,168.79 L388.61,169.03 L389.23,169.28 L389.86,169.52 L390.49,169.75 L391.12,169.99 L391.75,170.23 L392.38,170.46 L393.02,170.69 L393.65,170.92 L394.28,171.15 L394.92,171.38 L395.55,171.60 L396.19,171.82 L396.82,172.05 L397.46,172.27 L398.10,172.48 L398.73,172.70 L399.37,172.91 L400.01,173.13 L400.65,173.34 L401.29,173.55 L401.93,173.76 L402.57,173.96 L403.21,174.17 L403.86,174.37 L404.50,174.57 L405.14,174.77 L405.79,174.97 L406.43,175.17 L407.08,175.37 L407.72,175.56 L408.37,175.75 L409.01,175.95 L409.66,176.14 L410.31,176.32 L410.96,176.51 L411.61,176.70 L412.26,176.88 L412.90,177.06 L413.55,177.25 L414.21,177.43 L414.86,177.61 L415.51,177.78 L416.16,177.96 L416.81,178.13 L417.46,178.31 L418.12,178.48 L418.77,178.65 L419.42,178.82 L420.08,178.99 L420.73,179.16 L421.39,179.32 L422.04,179.49 L422.70,179.65 L423.36,179.82 L424.01,179.98 L424.67,180.14 L425.33,180.30 L425.98,180.46 L426.64,180.61 L427.30,180.77 L427.96,180.92 L428.62,181.08 L429.27,181.23 L429.93,181.38 L430.59,181.53 L431.25,181.68 L431.91,181.83 L432.57,181.98 L433.23,182.13 L433.89,182.27 L434.55,182.42 L435.22,182.56 L435.88,182.70 L436.54,182.84 L437.20,182.99 L437.86,183.13 L438.53,183.26 L439.19,183.40 L439.85,183.54 L440.51,183.67 L441.18,183.81 L441.84,183.94 L442.51,184.08 L443.17,184.21 L443.83,184.34 L444.50,184.47 L445.16,184.60 L445.83,184.73 L446.49,184.85 L447.16,184.98 L447.82,185.10 L448.49,185.23 L449.16,185.35 L449.82,185.47 L450.49,185.59 L451.15,185.71 L451.82,185.83 L452.49,185.95 L453.15,186.07 L453.82,186.19 L454.49,186.30 L455.16,186.42 L455.82,186.53 L456.49,186.64 L457.16,186.75 L457.83,186.86 L458.50,186.97 L459.16,187.08 L459.83,187.19 L460.50,187.30 L461.17,187.40 L461.84,187.51 L462.51,187.61 L463.18,187.71 L463.85,187.82 L464.52,187.92 L465.19,188.02 L465.86,188.12 L466.53,188.21 L467.20,188.31 L467.87,188.41 L468.54,188.50 L469.21,188.60 L469.88,188.69 L470.55,188.78 L471.22,188.88 L471.89,188.97 L472.56,189.06 L473.23,189.15 L473.91,189.23 L474.58,189.32 L475.25,189.41 L475.92,189.49 L476.59,189.58 L477.26,189.66 L477.94,189.74 L478.61,189.82 L479.28,189.90 L479.95,189.98 L480.62,190.06 L481.30,190.14 L481.97,190.22 L482.64,190.29 L483.31,190.37 L483.98,190.44 L484.66,190.52 L485.33,190.59 L486.00,190.66 L486.67,190.73 L487.35,190.80 L488.02,190.87 L488.69,190.94 L489.37,191.00 L490.04,191.07 L490.71,191.13 L491.38,191.20 L492.06,191.26 L492.73,191.32 L493.40,191.39 L494.08,191.45 L494.75,191.51 L495.42,191.56 L496.10,191.62 L496.77,191.68 L497.44,191.74 L498.12,191.79 L498.79,191.85 L499.46,191.90 L500.13,191.95 L500.81,192.00 L501.48,192.05 L502.15,192.10 L502.83,192.15 L503.50,192.20" fill="none" stroke="#008080" stroke-width="2" stroke-linejoin="round"/>
<path d="M135.45,345.60 L136.15,345.34 L136.85,345.08 L137.55,344.81 L138.24,344.55 L138.94,344.28 L139.63,344.01 L140.32,343.73 L141.01,343.46 L141.70,343.18 L142.39,342.90 L143.07,342.62 L143.76,342.33 L144.44,342.05 L145.13,341.76 L145.81,341.47 L146.49,341.18 L147.17,340.88 L147.85,340.58 L148.52,340.28 L149.20,339.98 L149.87,339.68 L150.55,339.37 L151.22,339.07 L151.89,338.76 L152.56,338.45 L153.23,338.13 L153.90,337.82 L154.56,337.50 L155.23,337.18 L155.89,336.86 L156.56,336.54 L157.22,336.21 L157.88,335.89 L158.54,335.56 L159.20,335.23 L159.86,334.90 L160.51,334.57 L161.17,334.23 L161.82,333.89 L162.48,333.55 L163.13,333.21 L163.78,332.87 L164.44,332.53 L165.09,332.18 L165.73,331.84 L166.38,331.49 L167.03,331.14 L167.68,330.79 L168.32,330.43 L168.97,330.08 L169.61,329.72 L170.25,329.36 L170.90,329.00 L171.54,328.64 L172.18,328.28 L172.82,327.92 L173.46,327.55 L174.10,327.18 L174.73,326.82 L175.37,326.45 L176.00,326.08 L176.64,325.70 L177.27,325.33 L177.91,324.96 L178.54,324.58 L179.17,324.20 L179.80,323.82 L180.43,323.44 L181.06,323.06 L181.69,322.68 L182.32,322.30 L182.95,321.91 L183.58,321.53 L184.20,321.14 L184.83,320.75 L185.45,320.36 L186.08,319.97 L186.70,319.58 L187.33,319.19 L187.95,318.79 L188.57,318.40 L189.19,318.00 L189.81,317.60 L190.43,317.21 L191.05,316.81 L191.67,316.41 L192.29,316.01 L192.91,315.61 L193.53,315.20 L194.15,314.80 L194.76,314.40 L195.38,313.99 L196.00,313.58 L196.61,313.18 L197.23,312.77 L197.84,312.36 L198.46,311.95 L199.07,311.54 L199.68,311.13 L200.30,310.72 L200.91,310.31 L201.52,309.89 L202.13,309.48 L202.74,309.06 L203.35,308.64 L203.96,308.23 L204.57,307.81 L205.17,307.39 L205.78,306.97 L206.39,306.54 L206.99,306.12 L207.60,305.70 L208.20,305.27 L208.80,304.85 L209.41,304.42 L210.01,303.99 L210.61,303.56 L211.21,303.13 L211.81,302.70 L212.41,302.27 L213.00,301.83 L213.60,301.40 L214.19,300.96 L214.79,300.52 L215.38,300.09 L215.98,299.65 L216.57,299.21 L217.16,298.76 L217.75,298.32 L218.34,297.88 L218.93,297.43 L219.51,296.98 L220.10,296.54 L220.68,296.09 L221.27,295.64 L221.85,295.18 L222.43,294.73 L223.01,294.28 L223.59,293.82 L224.17,293.36 L224.75,292.90 L225.32,292.44 L225.90,291.98 L226.47,291.52 L227.04,291.06 L227.62,290.59 L228.19,290.13 L228.76,289.66 L229.33,289.19 L229.89,288.72 L230.46,288.25 L231.03,287.78 L231.59,287.31 L232.16,286.84 L232.72,286.36 L233.29,285.89 L233.85,285.41 L234.41,284.94 L234.97,284.46 L235.53,283.98 L236.09,283.50 L236.65,283.02 L237.21,282.54 L237.77,282.06 L238.33,281.58 L238.88,281.09 L239.44,280.61 L240.00,280.13 L240.55,279.64 L241.11,279.16 L241.66,278.67 L242.22,278.18 L242.77,277.70 L243.32,277.21 L243.88,276.72 L244.43,276.23 L244.98,275.74 L245.53,275.26 L246.09,274.77 L246.64,274.28 L247.19,273.79 L247.74,273.29 L248.29,272.80 L248.84,272.31 L249.39,271.82 L249.94,271.33 L250.49,270.83 L251.04,270.34 L251.59,269.84 L252.14,269.35 L252.68,268.85 L253.23,268.35 L253.77,267.86 L254.32,267.36 L254.86,266.86 L255.41,266.36 L255.95,265.86 L256.49,265.36 L257.03,264.85 L257.57,264.35 L258.11,263.85 L258.65,263.34 L259.19,262.83 L259.72,262.33 L260.26,261.82 L260.79,261.31 L261.33,260.80 L261.86,260.28 L262.39,259.77 L262.92,259.26 L263.45,258.74 L263.98,258.22 L264.51,257.70 L265.03,257.18 L265.55,256.66 L266.08,256.14 L266.60,255.62 L267.12,255.09 L267.64,254.56 L268.15,254.04 L268.67,253.51 L269.19,252.98 L269.70,252.44 L270.21,251.91 L270.72,251.38 L271.23,250.84 L271.74,250.30 L272.24,249.76 L272.75,249.22 L273.25,248.68 L273.75,248.14 L274.26,247.59 L274.75,247.05 L275.25,246.50 L275.75,245.95 L276.24,245.40 L276.74,244.85 L277.23,244.30 L277.72,243.75 L278.20,243.19 L278.69,242.63 L279.18,242.08 L279.66,241.52 L280.14,240.96 L280.62,240.39 L281.10,239.83 L281.58,239.27 L282.05,238.70 L282.53,238.13 L283.00,237.56 L283.47,236.99 L283.94,236.42 L284.41,235.85 L284.87,235.27 L285.34,234.70 L285.80,234.12 L286.26,233.54 L286.72,232.96 L287.17,232.38 L287.63,231.80 L288.08,231.21 L288.53,230.63 L288.98,230.04 L289.43,229.45 L289.87,228.86 L290.32,228.27 L290.76,227.68 L291.20,227.09 L291.64,226.49 L292.07,225.90 L292.51,225.30 L292.94,224.70 L293.37,224.10 L293.80,223.50 L294.23,222.89 L294.65,222.29 L295.08,221.68 L295.50,221.07 L295.92,220.47 L296.33,219.85 L296.75,219.24 L297.16,218.63 L297.57,218.02 L297.98,217.40 L298.39,216.78 L298.79,216.16 L299.19,215.54 L299.59,214.92 L299.99,214.30 L300.38,213.67 L300.77,213.05 L301.16,212.42 L301.55,211.79 L301.93,211.16 L302.31,210.52 L302.69,209.89 L303.06,209.25 L303.43,208.61 L303.80,207.97 L304.16,207.33 L304.52,206.68 L304.87,206.04 L305.22,205.39 L305.57,204.74 L305.91,204.08 L306.25,203.43 L306.58,202.77 L306.91,202.11 L307.23,201.45 L307.55,200.79 L307.86,200.12 L308.17,199.45 L308.48,198.78 L308.77,198.11 L309.07,197.43 L309.35,196.76 L309.64,196.08 L309.91,195.39 L310.18,194.71 L310.45,194.02 L310.71,193.33 L310.96,192.64 L311.21,191.94 L311.46,191.24 L311.70,190.54 L311.93,189.84 L312.16,189.14 L312.39,188.43 L312.61,187.73 L312.82,187.02 L313.03,186.31 L313.24,185.60 L313.45,184.88 L313.65,184.17 L313.84,183.45 L314.03,182.73 L314.22,182.01 L314.41,181.29 L314.59,180.57 L314.77,179.84 L314.94,179.12 L315.12,178.39 L315.29,177.66 L315.45,176.94 L315.62,176.21 L315.78,175.48 L315.94,174.75 L316.10,174.01 L316.25,173.28 L316.40,172.55 L316.55,171.82 L316.70,171.08 L316.85,170.35 L317.00,169.62 L317.14,168.88 L317.28,168.15 L317.42,167.41 L317.57,166.68 L317.70,165.94 L317.84,165.21 L317.98,164.48 L318.12,163.74 L318.25,163.01 L318.39,162.27 L318.53,161.54 L318.66,160.81 L318.80,160.08 L318.93,159.34 L319.07,158.61 L319.20,157.88 L319.34,157.15 L319.48,156.42 L319.61,155.69 L319.75,154.97 L319.89,154.24 L320.03,153.52 L320.17,152.79 L320.31,152.07 L320.46,151.35 L320.60,150.63 L320.75,149.91 L320.89,149.19 L321.04,148.48 L321.20,147.76 L321.35,147.05 L321.50,146.34 L321.66,145.63 L321.82,144.92 L321.98,144.21 L322.14,143.51 L322.31,142.80 L322.47,142.10 L322.64,141.40 L322.81,140.69 L322.98,139.99 L323.15,139.29 L323.32,138.59 L323.50,137.89 L323.68,137.19 L323.85,136.49 L324.03,135.79 L324.21,135.09 L324.39,134.39 L324.57,133.70 L324.76,133.00 L324.94,132.30 L325.13,131.60 L325.31,130.90 L325.50,130.20 L325.69,129.50 L325.87,128.79 L326.06,128.09 L326.25,127.39 L326.44,126.68 L326.64,125.98 L326.83,125.27 L327.02,124.56 L327.21,123.85 L327.41,123.14 L327.60,122.43 L327.79,121.72 L327.99,121.00 L328.18,120.28 L328.38,119.56 L328.57,118.84 L328.77,118.12 L328.96,117.40 L329.16,116.67 L329.35,115.94 L329.55,115.21 L329.74,114.47 L329.94,113.74 L330.13,113.00 L330.32,112.25 L330.52,111.51 L330.71,110.76 L330.91,110.01 L331.10,109.26 L331.29,108.50 L331.48,107.74 L331.67,106.98 L331.87,106.21 L332.06,105.44 L332.26,104.68 L332.45,103.91 L332.66,103.15 L332.86,102.39 L333.08,101.63 L333.30,100.88 L333.53,100.14 L333.77,99.40 L334.01,98.68 L334.27,97.96 L334.54,97.25 L334.82,96.56 L335.12,95.88 L335.43,95.22 L335.76,94.57 L336.10,93.93 L336.46,93.32 L336.84,92.72 L337.23,92.14 L337.65,91.59 L338.09,91.06 L338.55,90.55 L339.03,90.06 L339.54,89.60 L340.07,89.17 L340.63,88.77 L341.21,88.40 L341.80,88.07 L342.42,87.77 L343.04,87.52 L343.68,87.32 L344.33,87.16 L344.99,87.06 L345.65,87.02 L346.31,87.03 L346.97,87.10 L347.63,87.23 L348.29,87.40 L348.94,87.63 L349.59,87.91 L350.23,88.22 L350.87,88.58 L351.51,88.96 L352.15,89.37 L352.78,89.81 L353.40,90.26 L354.03,90.73 L354.64,91.21 L355.26,91.70 L355.87,92.18 L356.48,92.67 L357.09,93.15 L357.69,93.62 L358.29,94.09 L358.90,94.55 L359.51,95.01 L360.12,95.45 L360.73,95.89 L361.35,96.32 L361.97,96.74 L362.60,97.15 L363.22,97.55 L363.86,97.94 L364.49,98.32 L365.13,98.69 L365.78,99.06 L366.42,99.42 L367.07,99.77 L367.73,100.11 L368.38,100.44 L369.04,100.77 L369.70,101.09 L370.37,101.40 L371.04,101.70 L371.71,102.00 L372.38,102.29 L373.06,102.57 L373.74,102.85 L374.42,103.12 L375.10,103.39 L375.79,103.65 L376.48,103.90 L377.17,104.15 L377.86,104.39 L378.56,104.63 L379.26,104.86 L379.95,105.08 L380.66,105.30 L381.36,105.52 L382.06,105.73 L382.77,105.94 L383.48,106.14 L384.19,106.34 L384.90,106.53 L385.61,106.72 L386.33,106.91 L387.04,107.10 L387.76,107.28 L388.48,107.45 L389.20,107.63 L389.92,107.80 L390.64,107.97 L391.36,108.13 L392.08,108.29 L392.81,108.45 L393.53,108.61 L394.25,108.77 L394.98,108.92 L395.71,109.08 L396.43,109.23 L397.16,109.38 L397.89,109.53 L398.61,109.68 L399.34,109.82 L400.07,109.97 L400.80,110.11 L401.52,110.26 L402.25,110.40 L402.98,110.55 L403.71,110.69 L404.43,110.83 L405.16,110.97 L405.89,111.11 L406.62,111.25 L407.35,111.39 L408.08,111.53 L408.80,111.66 L409.53,111.80 L410.26,111.93 L410.99,112.07 L411.72,112.20 L412.45,112.33 L413.18,112.47 L413.91,112.60 L414.64,112.73 L415.36,112.86 L416.09,112.99 L416.82,113.11 L417.55,113.24 L418.28,113.37 L419.01,113.49 L419.74,113.62 L420.47,113.74 L421.20,113.86 L421.93,113.99 L422.66,114.11 L423.39,114.23 L424.12,114.35 L424.85,114.47 L425.58,114.58 L426.31,114.70 L427.05,114.82 L427.78,114.93 L428.51,115.05 L429.24,115.16 L429.97,115.27 L430.70,115.38 L431.43,115.50 L432.16,115.61 L432.89,115.71 L433.63,115.82 L434.36,115.93 L435.09,116.04 L435.82,116.14 L436.55,116.25 L437.29,116.35 L438.02,116.45 L438.75,116.55 L439.48,116.66 L440.21,116.76 L440.95,116.85 L441.68,116.95 L442.41,117.05 L443.15,117.15 L443.88,117.24 L444.61,117.34 L445.35,117.43 L446.08,117.52 L446.81,117.61 L447.55,117.70 L448.28,117.79 L449.01,117.88 L449.75,117.97 L450.48,118.06 L451.21,118.14 L451.95,118.23 L452.68,118.31 L453.42,118.39 L454.15,118.48 L454.89,118.56 L455.62,118.64 L456.35,118.72 L457.09,118.79 L457.82,118.87 L458.56,118.95 L459.29,119.02 L460.03,119.10 L460.76,119.17 L461.50,119.24 L462.24,119.31 L462.97,119.38 L463.71,119.45 L464.44,119.52 L465.18,119.59 L465.92,119.65 L466.65,119.72 L467.39,119.78 L468.12,119.85 L468.86,119.91 L469.60,119.97 L470.33,120.03 L471.07,120.09 L471.81,120.14 L472.54,120.20 L473.28,120.26 L474.02,120.31 L474.76,120.36 L475.49,120.42 L476.23,120.47 L476.97,120.52 L477.71,120.57 L478.44,120.62 L479.18,120.66 L479.92,120.71 L480.66,120.76 L481.40,120.80 L482.14,120.84 L482.87,120.88 L483.61,120.92 L484.35,120.96 L485.09,121.00 L485.83,121.04 L486.57,121.08 L487.31,121.11 L488.05,121.15 L488.79,121.18 L489.53,121.21 L490.27,121.24 L491.01,121.27 L491.75,121.30 L492.49,121.33 L493.23,121.35 L493.97,121.38 L494.71,121.40 L495.45,121.42 L496.19,121.45 L496.93,121.47 L497.67,121.49 L498.41,121.50 L499.15,121.52 L499.89,121.54 L500.63,121.55 L501.38,121.57 L502.12,121.58 L502.86,121.59 L503.60,121.60" fill="none" stroke="#FF00FF" stroke-width="2" stroke-linejoin="round"/>
<path d="M135.45,344.90 L136.18,344.69 L136.91,344.47 L137.63,344.26 L138.36,344.04 L139.09,343.83 L139.82,343.61 L140.55,343.40 L141.27,343.18 L142.00,342.96 L142.73,342.74 L143.46,342.53 L144.18,342.31 L144.91,342.09 L145.64,341.86 L146.36,341.64 L147.09,341.42 L147.82,341.20 L148.54,340.97 L149.27,340.75 L150.00,340.53 L150.72,340.30 L151.45,340.07 L152.18,339.85 L152.90,339.62 L153.63,339.39 L154.35,339.16 L155.08,338.93 L155.80,338.70 L156.53,338.47 L157.25,338.24 L157.98,338.00 L158.70,337.77 L159.43,337.54 L160.15,337.30 L160.88,337.06 L161.60,336.83 L162.32,336.59 L163.05,336.35 L163.77,336.11 L164.49,335.87 L165.21,335.63 L165.94,335.39 L166.66,335.15 L167.38,334.90 L168.10,334.66 L168.82,334.41 L169.54,334.17 L170.26,333.92 L170.99,333.67 L171.71,333.42 L172.43,333.18 L173.14,332.92 L173.86,332.67 L174.58,332.42 L175.30,332.17 L176.02,331.91 L176.74,331.66 L177.45,331.40 L178.17,331.15 L178.89,330.89 L179.61,330.63 L180.32,330.37 L181.04,330.11 L181.75,329.85 L182.47,329.58 L183.18,329.32 L183.90,329.05 L184.61,328.79 L185.32,328.52 L186.04,328.25 L186.75,327.98 L187.46,327.71 L188.17,327.44 L188.88,327.17 L189.60,326.90 L190.31,326.62 L191.02,326.35 L191.73,326.07 L192.43,325.80 L193.14,325.52 L193.85,325.24 L194.56,324.96 L195.27,324.67 L195.97,324.39 L196.68,324.11 L197.39,323.82 L198.09,323.54 L198.80,323.25 L199.50,322.96 L200.20,322.67 L200.91,322.38 L201.61,322.09 L202.31,321.79 L203.01,321.50 L203.71,321.20 L204.42,320.91 L205.12,320.61 L205.81,320.31 L206.51,320.01 L207.21,319.71 L207.91,319.40 L208.61,319.10 L209.30,318.79 L210.00,318.49 L210.69,318.18 L211.39,317.87 L212.08,317.56 L212.78,317.25 L213.47,316.94 L214.16,316.62 L214.85,316.31 L215.54,315.99 L216.24,315.67 L216.92,315.35 L217.61,315.03 L218.30,314.71 L218.99,314.38 L219.68,314.06 L220.36,313.73 L221.05,313.41 L221.73,313.08 L222.42,312.75 L223.10,312.41 L223.79,312.08 L224.47,311.75 L225.15,311.41 L225.83,311.07 L226.51,310.74 L227.19,310.39 L227.87,310.05 L228.55,309.71 L229.22,309.37 L229.90,309.02 L230.57,308.67 L231.25,308.32 L231.92,307.97 L232.60,307.62 L233.27,307.27 L233.94,306.91 L234.61,306.56 L235.28,306.20 L235.95,305.84 L236.62,305.48 L237.29,305.12 L237.95,304.75 L238.62,304.39 L239.29,304.02 L239.95,303.65 L240.61,303.28 L241.28,302.91 L241.94,302.54 L242.60,302.17 L243.26,301.79 L243.92,301.41 L244.58,301.03 L245.24,300.65 L245.89,300.27 L246.55,299.89 L247.20,299.50 L247.86,299.12 L248.51,298.73 L249.16,298.34 L249.82,297.95 L250.47,297.56 L251.12,297.17 L251.77,296.77 L252.42,296.38 L253.06,295.98 L253.71,295.58 L254.36,295.18 L255.00,294.78 L255.65,294.38 L256.29,293.97 L256.93,293.57 L257.58,293.16 L258.22,292.75 L258.86,292.34 L259.50,291.93 L260.14,291.52 L260.77,291.11 L261.41,290.69 L262.05,290.28 L262.68,289.86 L263.32,289.44 L263.95,289.02 L264.59,288.60 L265.22,288.18 L265.85,287.76 L266.48,287.33 L267.11,286.91 L267.74,286.48 L268.37,286.05 L268.99,285.62 L269.62,285.19 L270.25,284.76 L270.87,284.33 L271.50,283.90 L272.12,283.46 L272.74,283.02 L273.36,282.59 L273.98,282.15 L274.60,281.71 L275.22,281.27 L275.84,280.83 L276.46,280.39 L277.08,279.94 L277.69,279.50 L278.31,279.05 L278.92,278.60 L279.54,278.16 L280.15,277.71 L280.76,277.26 L281.37,276.81 L281.98,276.35 L282.59,275.90 L283.20,275.45 L283.81,274.99 L284.42,274.54 L285.02,274.08 L285.63,273.62 L286.23,273.16 L286.84,272.70 L287.44,272.24 L288.04,271.78 L288.64,271.32 L289.24,270.85 L289.84,270.39 L290.44,269.92 L291.04,269.46 L291.64,268.99 L292.24,268.52 L292.83,268.05 L293.43,267.58 L294.02,267.11 L294.61,266.64 L295.21,266.16 L295.80,265.69 L296.39,265.21 L296.98,264.74 L297.57,264.26 L298.15,263.78 L298.74,263.30 L299.33,262.82 L299.91,262.34 L300.49,261.86 L301.08,261.37 L301.66,260.89 L302.24,260.40 L302.82,259.91 L303.40,259.42 L303.97,258.93 L304.55,258.44 L305.13,257.95 L305.70,257.46 L306.27,256.96 L306.85,256.47 L307.42,255.97 L307.99,255.47 L308.55,254.97 L309.12,254.47 L309.69,253.97 L310.25,253.47 L310.82,252.96 L311.38,252.46 L311.94,251.95 L312.50,251.44 L313.06,250.93 L313.62,250.42 L314.18,249.91 L314.73,249.39 L315.29,248.88 L315.84,248.36 L316.39,247.85 L316.94,247.33 L317.49,246.81 L318.04,246.28 L318.58,245.76 L319.13,245.24 L319.67,244.71 L320.21,244.18 L320.75,243.65 L321.29,243.12 L321.83,242.59 L322.37,242.06 L322.90,241.52 L323.44,240.99 L323.97,240.45 L324.50,239.91 L325.03,239.37 L325.56,238.82 L326.08,238.28 L326.61,237.74 L327.13,237.19 L327.66,236.64 L328.18,236.09 L328.70,235.54 L329.21,234.99 L329.73,234.43 L330.25,233.88 L330.76,233.32 L331.27,232.76 L331.79,232.20 L332.30,231.64 L332.80,231.08 L333.31,230.52 L333.82,229.95 L334.32,229.38 L334.82,228.82 L335.33,228.25 L335.83,227.68 L336.33,227.11 L336.82,226.53 L337.32,225.96 L337.82,225.38 L338.31,224.81 L338.80,224.23 L339.29,223.65 L339.78,223.07 L340.27,222.49 L340.76,221.91 L341.25,221.32 L341.73,220.74 L342.21,220.15 L342.70,219.57 L343.18,218.98 L343.66,218.39 L344.14,217.80 L344.61,217.20 L345.09,216.61 L345.56,216.02 L346.04,215.42 L346.51,214.83 L346.98,214.23 L347.45,213.63 L347.92,213.03 L348.39,212.43 L348.85,211.83 L349.32,211.23 L349.78,210.62 L350.25,210.02 L350.71,209.41 L351.17,208.81 L351.63,208.20 L352.08,207.59 L352.54,206.98 L353.00,206.37 L353.45,205.76 L353.90,205.15 L354.36,204.53 L354.81,203.92 L355.26,203.30 L355.71,202.69 L356.15,202.07 L356.60,201.45 L357.05,200.83 L357.49,200.21 L357.93,199.59 L358.37,198.97 L358.82,198.35 L359.25,197.73 L359.69,197.10 L360.13,196.48 L360.56,195.85 L361.00,195.22 L361.43,194.60 L361.86,193.97 L362.29,193.34 L362.71,192.71 L363.14,192.07 L363.56,191.44 L363.98,190.81 L364.40,190.17 L364.82,189.53 L365.23,188.90 L365.64,188.26 L366.06,187.62 L366.46,186.97 L366.87,186.33 L367.27,185.69 L367.67,185.04 L368.07,184.39 L368.47,183.75 L368.86,183.10 L369.25,182.45 L369.64,181.79 L370.03,181.14 L370.41,180.49 L370.79,179.83 L371.16,179.17 L371.54,178.51 L371.91,177.85 L372.28,177.19 L372.64,176.52 L373.00,175.86 L373.36,175.19 L373.72,174.52 L374.07,173.85 L374.42,173.18 L374.76,172.51 L375.10,171.83 L375.44,171.16 L375.77,170.48 L376.10,169.80 L376.43,169.12 L376.75,168.43 L377.07,167.75 L377.39,167.06 L377.70,166.37 L378.00,165.68 L378.31,164.99 L378.61,164.29 L378.90,163.60 L379.19,162.90 L379.48,162.20 L379.76,161.50 L380.04,160.80 L380.31,160.09 L380.58,159.38 L380.85,158.68 L381.11,157.97 L381.37,157.25 L381.63,156.54 L381.88,155.83 L382.13,155.11 L382.37,154.39 L382.62,153.67 L382.85,152.95 L383.09,152.23 L383.32,151.51 L383.55,150.78 L383.77,150.06 L384.00,149.33 L384.21,148.60 L384.43,147.87 L384.64,147.14 L384.85,146.41 L385.06,145.67 L385.26,144.94 L385.47,144.20 L385.67,143.47 L385.86,142.73 L386.05,141.99 L386.25,141.25 L386.43,140.51 L386.62,139.77 L386.80,139.03 L386.99,138.28 L387.17,137.54 L387.34,136.80 L387.52,136.05 L387.69,135.31 L387.86,134.56 L388.03,133.81 L388.20,133.06 L388.36,132.31 L388.52,131.57 L388.69,130.82 L388.85,130.07 L389.00,129.32 L389.16,128.56 L389.31,127.81 L389.47,127.06 L389.62,126.31 L389.77,125.56 L389.92,124.80 L390.07,124.05 L390.21,123.30 L390.36,122.54 L390.50,121.79 L390.64,121.04 L390.79,120.28 L390.93,119.53 L391.07,118.78 L391.21,118.02 L391.35,117.27 L391.48,116.51 L391.62,115.76 L391.76,115.01 L391.89,114.25 L392.03,113.50 L392.16,112.75 L392.30,111.99 L392.43,111.24 L392.56,110.49 L392.70,109.74 L392.83,108.98 L392.96,108.23 L393.10,107.48 L393.23,106.73 L393.36,105.98 L393.50,105.23 L393.63,104.48 L393.76,103.73 L393.90,102.99 L394.03,102.24 L394.16,101.49 L394.30,100.75 L394.43,100.00 L394.57,99.26 L394.70,98.51 L394.84,97.77 L394.98,97.03 L395.11,96.28 L395.25,95.54 L395.39,94.80 L395.53,94.07 L395.67,93.33 L395.81,92.59 L395.96,91.86 L396.10,91.12 L396.25,90.39 L396.39,89.66 L396.54,88.92 L396.69,88.19 L396.84,87.47 L396.99,86.74 L397.15,86.01 L397.30,85.29 L397.46,84.56 L397.61,83.84 L397.77,83.12 L397.94,82.40 L398.10,81.68 L398.26,80.96 L398.43,80.24 L398.60,79.51 L398.77,78.79 L398.94,78.07 L399.12,77.35 L399.29,76.62 L399.47,75.89 L399.66,75.16 L399.84,74.43 L400.03,73.70 L400.21,72.96 L400.41,72.22 L400.60,71.48 L400.80,70.73 L400.99,69.98 L401.20,69.23 L401.40,68.47 L401.61,67.70 L401.82,66.94 L402.03,66.16 L402.25,65.38 L402.47,64.60 L402.69,63.81 L402.92,63.01 L403.14,62.21 L403.38,61.41 L403.62,60.61 L403.87,59.81 L404.13,59.02 L404.40,58.24 L404.69,57.47 L404.98,56.71 L405.30,55.97 L405.63,55.25 L405.97,54.55 L406.34,53.88 L406.72,53.24 L407.13,52.63 L407.56,52.05 L408.02,51.51 L408.50,51.00 L409.01,50.54 L409.55,50.12 L410.11,49.75 L410.69,49.45 L411.29,49.20 L411.92,49.02 L412.55,48.90 L413.20,48.85 L413.86,48.86 L414.53,48.93 L415.21,49.05 L415.88,49.23 L416.56,49.46 L417.23,49.73 L417.90,50.06 L418.56,50.41 L419.23,50.79 L419.89,51.18 L420.55,51.59 L421.20,51.99 L421.86,52.40 L422.51,52.81 L423.16,53.23 L423.81,53.64 L424.46,54.06 L425.11,54.48 L425.76,54.89 L426.41,55.31 L427.06,55.72 L427.71,56.14 L428.36,56.55 L429.01,56.95 L429.67,57.36 L430.32,57.76 L430.98,58.15 L431.64,58.54 L432.30,58.93 L432.96,59.31 L433.62,59.68 L434.29,60.05 L434.96,60.40 L435.64,60.76 L436.32,61.10 L437.00,61.44 L437.68,61.77 L438.36,62.10 L439.05,62.42 L439.74,62.73 L440.43,63.04 L441.13,63.34 L441.82,63.64 L442.52,63.93 L443.23,64.21 L443.93,64.49 L444.64,64.76 L445.34,65.03 L446.06,65.29 L446.77,65.55 L447.48,65.80 L448.20,66.04 L448.92,66.28 L449.64,66.52 L450.36,66.75 L451.08,66.98 L451.81,67.20 L452.54,67.41 L453.27,67.63 L454.00,67.83 L454.73,68.04 L455.46,68.24 L456.20,68.43 L456.94,68.62 L457.68,68.81 L458.42,68.99 L459.16,69.17 L459.90,69.34 L460.64,69.52 L461.39,69.68 L462.13,69.85 L462.88,70.01 L463.63,70.17 L464.38,70.32 L465.13,70.47 L465.88,70.62 L466.63,70.76 L467.38,70.90 L468.13,71.04 L468.89,71.18 L469.64,71.31 L470.40,71.44 L471.15,71.57 L471.91,71.70 L472.67,71.82 L473.43,71.94 L474.18,72.06 L474.94,72.18 L475.70,72.29 L476.46,72.40 L477.22,72.52 L477.98,72.62 L478.74,72.73 L479.50,72.84 L480.26,72.94 L481.02,73.05 L481.78,73.15 L482.54,73.25 L483.30,73.35 L484.05,73.45 L484.81,73.54 L485.57,73.64 L486.33,73.73 L487.09,73.83 L487.85,73.92 L488.61,74.02 L489.36,74.11 L490.12,74.20 L490.88,74.30 L491.63,74.39 L492.39,74.48 L493.14,74.57 L493.89,74.66 L494.65,74.76 L495.40,74.85 L496.15,74.94 L496.90,75.03 L497.65,75.13 L498.39,75.22 L499.14,75.32 L499.89,75.41 L500.63,75.51 L501.38,75.60 L502.12,75.70 L502.86,75.80 L503.60,75.90" fill="none" stroke="#808000" stroke-width="2" stroke-linejoin="round"/>
<g stroke="#000" stroke-width="2.0" stroke-linecap="butt"><line x1="98.8" y1="19.88" x2="98.8" y2="379.7" /><line x1="97.8" y1="378.7" x2="541.31" y2="378.7" /><line x1="91.10" y1="378.40" x2="98.8" y2="378.40" /><line x1="94.90" y1="361.38" x2="98.8" y2="361.38" /><line x1="91.10" y1="344.35" x2="98.8" y2="344.35" /><line x1="94.90" y1="327.33" x2="98.8" y2="327.33" /><line x1="91.10" y1="310.30" x2="98.8" y2="310.30" /><line x1="94.90" y1="293.28" x2="98.8" y2="293.28" /><line x1="91.10" y1="276.25" x2="98.8" y2="276.25" /><line x1="94.90" y1="259.23" x2="98.8" y2="259.23" /><line x1="91.10" y1="242.20" x2="98.8" y2="242.20" /><line x1="94.90" y1="225.18" x2="98.8" y2="225.18" /><line x1="91.10" y1="208.15" x2="98.8" y2="208.15" /><line x1="94.90" y1="191.13" x2="98.8" y2="191.13" /><line x1="91.10" y1="174.10" x2="98.8" y2="174.10" /><line x1="94.90" y1="157.08" x2="98.8" y2="157.08" /><line x1="91.10" y1="140.05" x2="98.8" y2="140.05" /><line x1="94.90" y1="123.03" x2="98.8" y2="123.03" /><line x1="91.10" y1="106.00" x2="98.8" y2="106.00" /><line x1="94.90" y1="88.98" x2="98.8" y2="88.98" /><line x1="91.10" y1="71.95" x2="98.8" y2="71.95" /><line x1="94.90" y1="54.93" x2="98.8" y2="54.93" /><line x1="91.10" y1="37.90" x2="98.8" y2="37.90" /><line x1="94.90" y1="20.88" x2="98.8" y2="20.88" /><line x1="98.64" y1="378.7" x2="98.64" y2="382.70" /><line x1="135.45" y1="378.7" x2="135.45" y2="386.10" /><line x1="172.25" y1="378.7" x2="172.25" y2="382.70" /><line x1="209.06" y1="378.7" x2="209.06" y2="386.10" /><line x1="245.87" y1="378.7" x2="245.87" y2="382.70" /><line x1="282.67" y1="378.7" x2="282.67" y2="386.10" /><line x1="319.48" y1="378.7" x2="319.48" y2="382.70" /><line x1="356.28" y1="378.7" x2="356.28" y2="386.10" /><line x1="393.08" y1="378.7" x2="393.08" y2="382.70" /><line x1="429.89" y1="378.7" x2="429.89" y2="386.10" /><line x1="466.69" y1="378.7" x2="466.69" y2="382.70" /><line x1="503.50" y1="378.7" x2="503.50" y2="386.10" /><line x1="540.31" y1="378.7" x2="540.31" y2="382.70" /></g>
<g font-family='"Liberation Sans", Arial, sans-serif' font-size="23.3" fill="#000"><text x="87.3" y="385.70" text-anchor="end">-2</text><text x="87.3" y="351.65" text-anchor="end">0</text><text x="87.3" y="317.60" text-anchor="end">2</text><text x="87.3" y="283.55" text-anchor="end">4</text><text x="87.3" y="249.50" text-anchor="end">6</text><text x="87.3" y="215.45" text-anchor="end">8</text><text x="87.3" y="181.40" text-anchor="end">10</text><text x="87.3" y="147.35" text-anchor="end">12</text><text x="87.3" y="113.30" text-anchor="end">14</text><text x="87.3" y="79.25" text-anchor="end">16</text><text x="87.3" y="45.20" text-anchor="end">18</text><text x="135.45" y="407.7" text-anchor="middle">0.0</text><text x="209.06" y="407.7" text-anchor="middle">0.2</text><text x="282.67" y="407.7" text-anchor="middle">0.4</text><text x="356.28" y="407.7" text-anchor="middle">0.6</text><text x="429.89" y="407.7" text-anchor="middle">0.8</text><text x="503.50" y="407.7" text-anchor="middle">1.0</text></g>
<g fill="#fff"><rect x="62.63" y="178.21" width="4.61" height="3.99"/><rect x="69.30" y="178.21" width="4.48" height="3.99"/><rect x="62.63" y="144.16" width="4.61" height="3.99"/><rect x="69.30" y="144.16" width="4.48" height="3.99"/><rect x="62.63" y="110.11" width="4.61" height="3.99"/><rect x="69.30" y="110.11" width="4.48" height="3.99"/><rect x="62.63" y="76.06" width="4.61" height="3.99"/><rect x="69.30" y="76.06" width="4.48" height="3.99"/><rect x="62.63" y="42.01" width="4.61" height="3.99"/><rect x="69.30" y="42.01" width="4.48" height="3.99"/><rect x="488.56" y="404.51" width="4.61" height="3.99"/><rect x="495.22" y="404.51" width="4.48" height="3.99"/></g>
<text x="136.9" y="442.5" font-family='"Liberation Sans", Arial, sans-serif' font-size="30">Reaction Coordinates</text>
<text x="436.4" y="442.5" font-family='"Liberation Sans", Arial, sans-serif' font-size="30">(</text>
<text x="444.85" y="443.6" font-family='"Liberation Serif", serif' font-size="28.5">ξ</text>
<text x="460.6" y="442.5" font-family='"Liberation Sans", Arial, sans-serif' font-size="30">)</text>
<g transform="translate(36.7,398.2) rotate(-90)"><text x="0" y="0" font-family='"Liberation Sans", Arial, sans-serif' font-size="30">Electronic Energy (kcal mol<tspan dy="-15.8" font-size="18.3">-</tspan><tspan dy="-1" font-size="18.3">1</tspan><tspan dy="16.8">)</tspan></text><g fill="#fff"><rect x="370.53" y="-19.30" width="3.62" height="3.30"/><rect x="375.77" y="-19.30" width="3.52" height="3.30"/></g></g>
<rect x="133.5" y="51" width="126.8" height="162.1" fill="#fff" stroke="#808080" stroke-width="1.1"/><line x1="139.2" y1="66.2" x2="187.6" y2="66.2" stroke="#000000" stroke-width="2"/><text x="192.7" y="72.8" font-family='"Liberation Sans", Arial, sans-serif' font-size="21.2">-H</text><line x1="139.2" y1="91.9" x2="187.6" y2="91.9" stroke="#FF0000" stroke-width="2"/><text x="192.7" y="98.5" font-family='"Liberation Sans", Arial, sans-serif' font-size="21.2">-mCl</text><line x1="139.2" y1="117.8" x2="187.6" y2="117.8" stroke="#0000FF" stroke-width="2"/><text x="192.7" y="124.39999999999999" font-family='"Liberation Sans", Arial, sans-serif' font-size="21.2">-mNO<tspan dy="8.6" font-size="12">2</tspan></text><line x1="139.2" y1="150.1" x2="187.6" y2="150.1" stroke="#008080" stroke-width="2"/><text x="192.7" y="156.7" font-family='"Liberation Sans", Arial, sans-serif' font-size="21.2">-pCl</text><line x1="139.2" y1="175.8" x2="187.6" y2="175.8" stroke="#FF00FF" stroke-width="2"/><text x="192.7" y="182.4" font-family='"Liberation Sans", Arial, sans-serif' font-size="21.2">-pMe</text><line x1="139.2" y1="201.6" x2="187.6" y2="201.6" stroke="#808000" stroke-width="2"/><text x="192.7" y="208.2" font-family='"Liberation Sans", Arial, sans-serif' font-size="21.2">-pOMe</text>
</svg>
</body></html>
